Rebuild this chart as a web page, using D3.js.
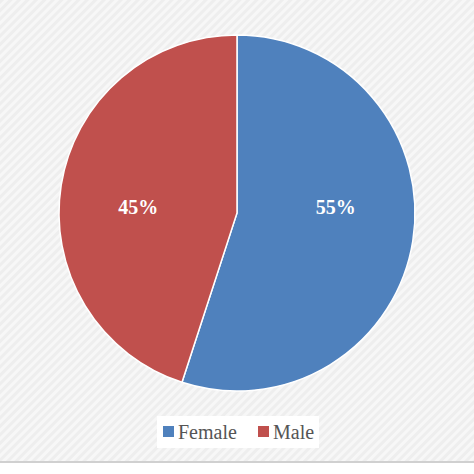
<!DOCTYPE html><html><head><script src="https://d3js.org/d3.v7.min.js"></script>
<style>body{margin:0}</style></head><body><svg width="474" height="474"></svg><script>
const categories=["Female","Male"];
const values=[55,45];
const colors=["#4f81bd","#c0504d"];
const svg=d3.select("svg");
const defs=svg.append("defs");
const pat=defs.append("pattern").attr("id","h").attr("width",6).attr("height",6).attr("patternUnits","userSpaceOnUse").attr("patternTransform","rotate(45)");
pat.append("rect").attr("width",6).attr("height",6).attr("fill","#f7f7f7");
pat.append("rect").attr("width",3).attr("height",6).attr("fill","#eeeeee");
svg.append("rect").attr("width",474).attr("height",462).attr("fill","url(#h)");
svg.append("rect").attr("y",462).attr("width",474).attr("height",12).attr("fill","#fff");
svg.append("line").attr("x1",0).attr("x2",474).attr("y1",462).attr("y2",462).attr("stroke","#d0d0d0").attr("stroke-width",2);
const pie=d3.pie().sort(null)(values);
const arc=d3.arc().innerRadius(0).outerRadius(178);
const g=svg.append("g").attr("transform","translate(237,213)");
g.selectAll("path").data(pie).join("path").attr("d",arc).attr("fill",(d,i)=>colors[i]).attr("stroke","#fff").attr("stroke-width",1.5);
const la=d3.arc().innerRadius(100).outerRadius(100);
g.selectAll("text").data(pie).join("text").attr("transform",d=>{const c=la.centroid(d);return `translate(${c[0]},${-6})`;})
 .attr("text-anchor","middle").attr("dy","0.35em").attr("fill","#fff").attr("font-family","Liberation Serif").attr("font-weight","bold").attr("font-size",20).text(d=>d.data+"%");
const lg=svg.append("g");
lg.append("rect").attr("x",157).attr("y",416).attr("width",162).attr("height",32).attr("fill","#fff");
const items=[{x:163},{x:258}];
categories.forEach((c,i)=>{
 lg.append("rect").attr("x",items[i].x).attr("y",426).attr("width",11).attr("height",11).attr("fill",colors[i]);
 lg.append("text").attr("x",items[i].x+15).attr("y",439).attr("font-family","Liberation Serif").attr("font-size",20).attr("fill","#555").text(c);
});
</script></body></html>
